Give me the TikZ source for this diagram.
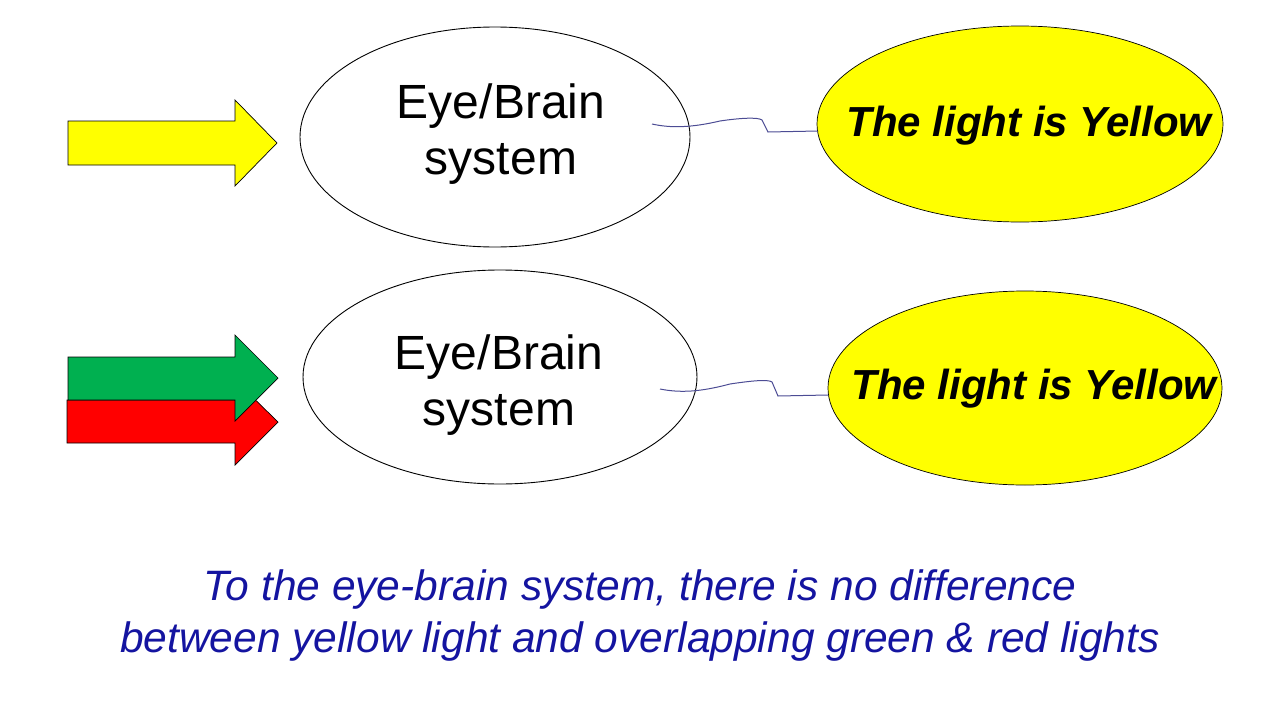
\documentclass[tikz,border=0pt]{standalone}
\usepackage{fontspec}
\setmainfont{Liberation Sans}
\begin{document}
\begin{tikzpicture}[x=1pt,y=-1pt,
  lab/.style={font=\fontsize{48}{56}\selectfont,align=center},
  yel/.style={font=\fontsize{42}{48}\selectfont\bfseries\itshape},
  wire/.style={draw=blue!40!black!70,line width=1pt},
  arr/.style={draw=black,line width=0.7pt}]
\useasboundingbox (0,0) rectangle (1280,720);
\definecolor{ay}{RGB}{255,255,0}
\definecolor{ag}{RGB}{0,176,80}
\definecolor{ar}{RGB}{255,0,0}
\definecolor{bt}{RGB}{20,20,160}
% arrows
\filldraw[arr,fill=ay] (68,121) -- (235,121) -- (235,100) -- (277,143) -- (235,186) -- (235,165) -- (68,165) -- cycle;
\filldraw[arr,fill=ar] (67,400) -- (235,400) -- (235,380) -- (278,422) -- (235,465) -- (235,443) -- (67,443) -- cycle;
\filldraw[arr,fill=ag] (68,357) -- (235,357) -- (235,335) -- (278,378) -- (235,421) -- (235,400) -- (68,400) -- cycle;
% ellipses
\draw[line width=0.9pt] (495,137) ellipse [x radius=195, y radius=110];
\node[lab] (e1) at (501,134) {Eye/Brain\\system};
\draw[line width=0.9pt] (500,377) ellipse [x radius=197, y radius=107];
\node[lab] (e2) at (499,385) {Eye/Brain\\system};
\filldraw[fill=ay,draw=black,line width=0.7pt] (1020,124) ellipse [x radius=203, y radius=98];
\node[yel] (y1) at (1029,126) {The light is Yellow};
\filldraw[fill=ay,draw=black,line width=0.7pt] (1025,388) ellipse [x radius=197, y radius=97];
\node[yel] (y2) at (1034,389) {The light is Yellow};
% wires
\coordinate (a1) at (652,124); \coordinate (b1) at (818,131);
\draw[wire] (a1) .. controls (670,128) and (690,128) .. (720,121) .. controls (740,118) and (758,117) .. (762,120) -- (768,132) -- (b1);
\coordinate (a2) at (660,389); \coordinate (b2) at (828,395);
\draw[wire] (a2) .. controls (680,393) and (700,392) .. (730,384) .. controls (750,381) and (768,379) .. (772,382) -- (778,396) -- (b2);
% bottom text
\node[font=\fontsize{42.5}{52}\selectfont\itshape,text=bt,align=center] (t) at (640,616)
  {To the eye-brain system, there is no difference\\between yellow light and overlapping green \& red lights};
\end{tikzpicture}
\end{document}
